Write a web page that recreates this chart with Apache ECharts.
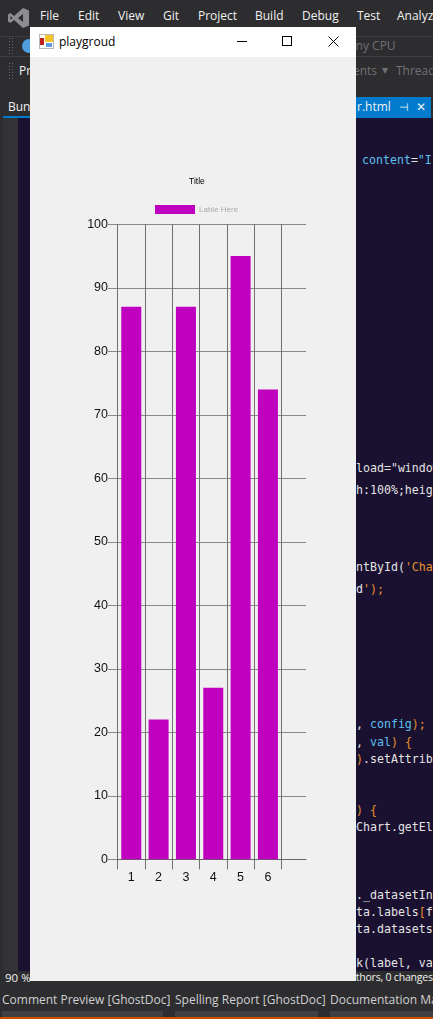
<!DOCTYPE html>
<html lang="en">

<head>
  <meta charset="UTF-8">
  <title>playgroud</title>
  <style>
    html, body { margin: 0; padding: 0; }
    body {
      position: relative;
      width: 433px;
      height: 1019px;
      overflow: hidden;
      background: #2d2d30;
      font-family: "Open Sans", "Noto Sans", sans-serif;
      font-size: 12px;
      color: #f1f1f1;
    }
    .box { position: absolute; }
    .t { position: absolute; white-space: pre; line-height: 16px; }
    .code { left: 356px; font-family: "DejaVu Sans Mono", monospace; font-size: 11.6px; color: #e4e4e4; }
    .blue { color: #5cc0ee; }
    .org { color: #e8912d; }
    .dim { color: #707073; }
    .grip {
      position: absolute; width: 5px;
      background-image: radial-gradient(#6a6a6a 1px, transparent 1px);
      background-size: 3px 3px;
    }
    #window { position: absolute; left: 30px; top: 27px; width: 326px; height: 954px; background: #f0f0f0; }
    #titlebar { position: absolute; left: 0; top: 0; width: 326px; height: 30px; background: #fff; color: #000; }
    #myEcharts { position: absolute; left: 0; top: 30px; width: 326px; height: 924px; }
  </style>
  <script src="https://cdn.jsdelivr.net/npm/echarts@6/dist/echarts.min.js"></script>
</head>

<body>
  <!-- editor behind the window -->
  <div class="box" style="left:3px;top:118px;width:15px;height:853px;background:#333335"></div>
  <div class="box" style="left:18px;top:118px;width:415px;height:853px;background:#1a1030"></div>
  <div class="box" style="left:3px;top:116px;width:30px;height:2px;background:#007acc"></div>
  <div class="box" style="left:0;top:36px;width:433px;height:1px;background:#3f3f42"></div>
  <div class="box" style="left:0;top:56px;width:433px;height:1px;background:#3f3f42"></div>
  <div class="box" style="left:350px;top:97px;width:81px;height:21px;background:#007acc"></div>

  <!-- menu -->
  <svg class="box" style="left:8px;top:8px" width="21" height="20" viewBox="0 0 21 20">
    <path fill="#8d8d90" d="M15 0l6 2.5v15L15 20 6 12l-3.5 3L0 13.5v-7L2.5 5 6 8zM2.5 8v4L4.5 10zM15 6l-5 4 5 4z"/>
  </svg>
  <span class="t" style="left:40px;top:8px">File</span>
  <span class="t" style="left:78px;top:8px">Edit</span>
  <span class="t" style="left:118px;top:8px">View</span>
  <span class="t" style="left:163px;top:8px">Git</span>
  <span class="t" style="left:198px;top:8px">Project</span>
  <span class="t" style="left:255px;top:8px">Build</span>
  <span class="t" style="left:302px;top:8px">Debug</span>
  <span class="t" style="left:357px;top:8px">Test</span>
  <span class="t" style="left:397px;top:8px">Analyze</span>

  <!-- toolbars -->
  <div class="grip" style="left:8px;top:37px;height:17px"></div>
  <div class="grip" style="left:8px;top:62px;height:18px"></div>
  <div class="box" style="left:22px;top:39px;width:14px;height:14px;border-radius:7px;background:#4f9fe0"></div>
  <span class="t" style="left:19px;top:63px">Pr</span>
  <span class="t dim" style="left:348px;top:38px">Any CPU</span>
  <span class="t dim" style="left:316px;top:63px">Comments</span>
  <span class="t dim" style="left:382px;top:62px">▾</span>
  <span class="t dim" style="left:396px;top:63px">Threads</span>

  <!-- tabs -->
  <span class="t" style="left:8px;top:99px">Bun</span>
  <span class="t" style="left:357px;top:99px">r.html</span>
  <span class="t" style="left:399px;top:99px;font-size:11px">⊣</span>
  <span class="t" style="left:416px;top:99px">✕</span>

  <!-- code, cut off by the window -->
  <span class="t code" style="left:362px;top:152px"><span class="blue">content</span>=<span class="blue">"I</span></span>
  <span class="t code" style="top:460px">load="window</span>
  <span class="t code" style="top:482px">h:100%;heigh</span>
  <span class="t code" style="top:559px">ntById(<span class="org">'Cha</span></span>
  <span class="t code" style="top:581px">d<span class="org">');</span></span>
  <span class="t code" style="top:716px">, <span class="blue">config</span><span class="org">);</span></span>
  <span class="t code" style="top:734px">, <span class="blue">val</span><span class="org">) {</span></span>
  <span class="t code" style="top:751px"><span class="org">)</span>.setAttrib</span>
  <span class="t code" style="top:802px"><span class="org">) {</span></span>
  <span class="t code" style="top:819px">Chart.getEl</span>
  <span class="t code" style="top:887px">._datasetIn</span>
  <span class="t code" style="top:904px">ta.labels<span class="org">[</span>f</span>
  <span class="t code" style="top:921px">ta.datasets</span>
  <span class="t code" style="top:955px">k(label, val</span>

  <!-- status and bottom tabs -->
  <div class="box" style="left:3px;top:971px;width:430px;height:13px;background:#2d2d30"></div>
  <span class="t" style="left:5px;top:970px;font-size:11.5px">90 %</span>
  <span class="t" style="left:343px;top:969px;font-size:10.5px;letter-spacing:-0.2px">Authors, 0 changes</span>
  <span class="t" style="left:2px;top:992px;color:#d0d0d0">Comment Preview [GhostDoc]</span>
  <span class="t" style="left:175px;top:992px;color:#d0d0d0">Spelling Report [GhostDoc]</span>
  <span class="t" style="left:330px;top:992px;color:#d0d0d0">Documentation Manager</span>
  <div class="box" style="left:2px;top:1011px;width:161px;height:6px;background:#3f3f46"></div>
  <div class="box" style="left:175px;top:1011px;width:143px;height:6px;background:#3f3f46"></div>
  <div class="box" style="left:330px;top:1011px;width:103px;height:6px;background:#3f3f46"></div>
  <div class="box" style="left:0;top:1017px;width:433px;height:2px;background:#ca5100"></div>

  <!-- the window with the chart -->
  <div id="window">
    <div id="titlebar">
      <svg class="box" style="left:9px;top:7px" width="15" height="15" viewBox="0 0 15 15">
        <rect x="0.5" y="0.5" width="14" height="14" fill="#fff" stroke="#b8b8b8"/>
        <rect x="1" y="4" width="4" height="7" fill="#c0201c"/>
        <rect x="6" y="1" width="8" height="7" fill="#f6c429"/>
        <rect x="7" y="9" width="6" height="4" fill="#5f9be0"/>
      </svg>
      <span class="t" style="left:29px;top:7px">playgroud</span>
      <div class="box" style="left:207px;top:14px;width:10px;height:1px;background:#000"></div>
      <div class="box" style="left:252px;top:9px;width:8px;height:8px;border:1px solid #000"></div>
      <svg class="box" style="left:298px;top:9px" width="11" height="11" viewBox="0 0 11 11">
        <path d="M0.5 0.5l10 10M10.5 0.5l-10 10" stroke="#000" fill="none"/>
      </svg>
    </div>
    <div id="myEcharts"></div>
  </div>

  <script>
    var chartTitle = 'Title';
    var seriesName = 'Lable Here';
    var categories = ['1', '2', '3', '4', '5', '6'];
    var values = [87, 22, 87, 27, 95, 74];
    var yMin = 0;
    var yMax = 100;
    var yStep = 10;

    var myChart = echarts.init(document.getElementById('myEcharts'));
    var textFont = 'Liberation Sans';

    var option = {
      animation: false,
      title: {
        text: chartTitle,
        left: 159,
        top: 120,
        padding: 0,
        textStyle: { fontFamily: textFont, fontSize: 8.5, fontWeight: 'normal', color: '#000' }
      },
      legend: {
        left: 125,
        top: 148,
        itemWidth: 40,
        itemHeight: 9,
        itemGap: 0,
        padding: 0,
        icon: 'rect',
        data: [seriesName],
        textStyle: { fontFamily: textFont, fontSize: 8, color: '#aaaaaa', padding: [0, 0, 0, -1] }
      },
      // grid 0 carries the horizontal lines, which run one band short of 7
      // grid 1 carries the bars and the vertical lines
      // the .3 and .6 are there so the lines snap to the same pixels as the reference
      grid: [
        { left: 87, top: 167.3, width: 189, height: 635 },
        { left: 87.6, top: 167.3, width: 164, height: 635 }
      ],
      xAxis: [
        {
          gridIndex: 0,
          type: 'category',
          data: categories,
          axisLine: { lineStyle: { color: '#666666', width: 1 } },
          axisTick: { show: false },
          axisLabel: { show: false },
          splitLine: { show: false }
        },
        {
          gridIndex: 1,
          type: 'category',
          data: categories,
          axisLine: { show: false },
          axisTick: { show: true, length: 10, lineStyle: { color: '#707070', width: 1 } },
          axisLabel: { margin: 12, fontFamily: textFont, fontSize: 12.5, color: '#111' },
          splitLine: { show: true, lineStyle: { color: '#707070', width: 1 } }
        }
      ],
      yAxis: [
        {
          gridIndex: 0,
          type: 'value',
          min: yMin,
          max: yMax,
          interval: yStep,
          axisLine: { show: false },
          axisTick: { show: true, length: 9, lineStyle: { color: '#8a8a8a', width: 1 } },
          axisLabel: { margin: 9, padding: [2, 0, 0, 0], fontFamily: textFont, fontSize: 12.5, color: '#111' },
          splitLine: { show: true, lineStyle: { color: '#8a8a8a', width: 1 } }
        },
        {
          gridIndex: 1,
          type: 'value',
          min: yMin,
          max: yMax,
          interval: yStep,
          show: false
        }
      ],
      series: [{
        name: seriesName,
        type: 'bar',
        xAxisIndex: 1,
        yAxisIndex: 1,
        barWidth: 20,
        data: values,
        itemStyle: { color: '#bf00bf' }
      }]
    };

    myChart.setOption(option);
  </script>
</body>

</html>
